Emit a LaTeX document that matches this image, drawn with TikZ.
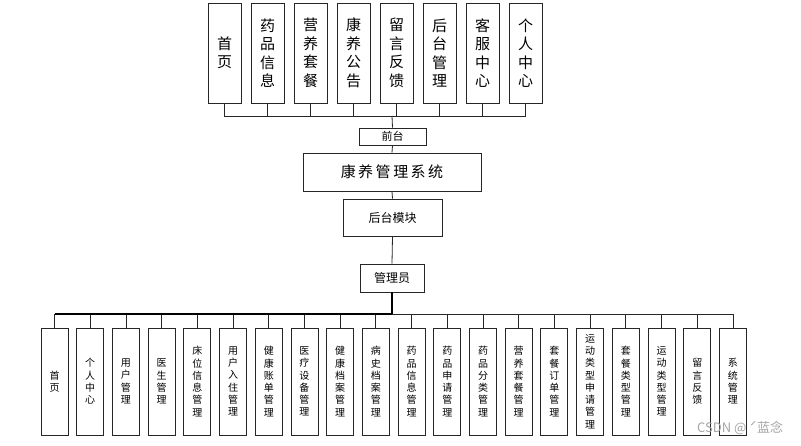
\documentclass[tikz,border=0pt]{standalone}
\usepackage{fontspec}
\setmainfont{Noto Sans CJK SC}
\begin{document}
\begin{tikzpicture}[x=1pt,y=-1pt,
  boxst/.style={draw=black!85,line width=0.9pt,fill=white,inner sep=0pt,align=center},
  topbox/.style={boxst,minimum width=33pt,minimum height=100pt,font=\fontsize{15}{18.5}\selectfont},
  botbox/.style={boxst,minimum width=27pt,minimum height=107pt,font=\fontsize{10}{12.3}\selectfont},
  link/.style={draw=black!85,line width=0.8pt},
  thick link/.style={draw=black,line width=1.6pt}]
\useasboundingbox (0,0) rectangle (801,445);
\fill[white] (0,0) rectangle (801,445);
% top row
\foreach \i/\t in {1/首\\页,2/药\\品\\信\\息,3/营\\养\\套\\餐,4/康\\养\\公\\告,5/留\\言\\反\\馈,6/后\\台\\管\\理,7/客\\服\\中\\心,8/个\\人\\中\\心}{
  \node[topbox] (t\i) at ({224.5+43*(\i-1)},53) {\t};
}
\coordinate (tbus) at (392,116);
\node[boxst,minimum width=67pt,minimum height=17pt,font=\fontsize{11}{13}\selectfont] (qt) at (392.5,136.5) {前台};
\node[boxst,minimum width=178pt,minimum height=38pt,font=\fontsize{15}{18}\selectfont] (sys) at (392,172) {康\,养\,管\,理\,系\,统};
\node[boxst,minimum width=99pt,minimum height=37pt,font=\fontsize{12}{14}\selectfont] (ht) at (392.5,217.5) {后台模块};
\node[boxst,minimum width=64pt,minimum height=28pt,font=\fontsize{12}{14}\selectfont] (gly) at (392,278) {管理员};
\coordinate (bbus) at (392,314);
\foreach \i in {1,...,8}{ \draw[link] (t\i.south) |- (tbus); }
\draw[link] (qt.north) -- (tbus);
\draw[link] (qt.south) -- (sys.north);
\draw[link] (sys.south) -- (ht.north);
\draw[link] (ht.south) -- (gly.north);
\draw[thick link] (gly.south) -- (bbus);
% bottom row
\foreach \i/\t in {1/首\\页,2/个\\人\\中\\心,3/用\\户\\管\\理,4/医\\生\\管\\理,5/床\\位\\信\\息\\管\\理,6/用\\户\\入\\住\\管\\理,7/健\\康\\账\\单\\管\\理,8/医\\疗\\设\\备\\管\\理,9/健\\康\\档\\案\\管\\理,10/病\\史\\档\\案\\管\\理,11/药\\品\\信\\息\\管\\理,12/药\\品\\申\\请\\管\\理,13/药\\品\\分\\类\\管\\理,14/营\\养\\套\\餐\\管\\理,15/套\\餐\\订\\单\\管\\理,16/运\\动\\类\\型\\申\\请\\管\\理,17/套\\餐\\类\\型\\管\\理,18/运\\动\\类\\型\\管\\理,19/留\\言\\反\\馈,20/系\\统\\管\\理}{
  \node[botbox] (b\i) at ({54.5+35.71*(\i-1)},381.5) {\t};
}
\foreach \i in {1,...,20}{ \draw[link] (b\i.north) |- (bbus); }
\draw[thick link] (b1.north |- bbus) -- (bbus);
\node[anchor=west,text=black!35,inner sep=0pt,font=\fontsize{13}{15}\selectfont] (wm) at (697,428) {CSDN @ ˊ蓝念};
\end{tikzpicture}
\end{document}
